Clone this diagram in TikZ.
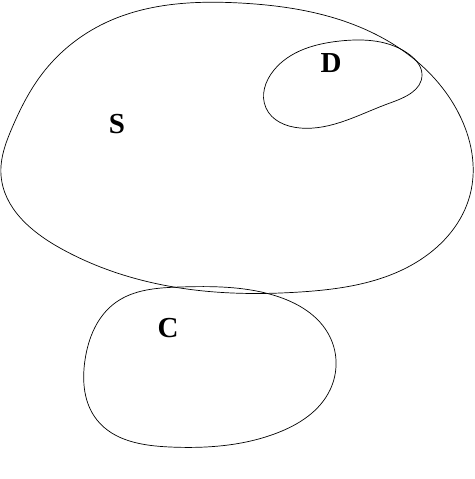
\documentclass[tikz,border=0pt]{standalone}
\usepackage{fontspec}
\setmainfont{Liberation Serif}
\usepackage{tikz}
\usetikzlibrary{hobby}

\tikzset{
  blob/.style={draw=black, line width=0.7pt},
  setname/.style={font=\fontsize{29}{29}\selectfont\bfseries}
}

\begin{document}
\begin{tikzpicture}[x=1pt, y=-1pt]
  \useasboundingbox (0,0) rectangle (474,479);

  % the big set S
  \draw[blob] plot[closed hobby] coordinates {
    (1,175) (12,128) (42,74) (105,23) (240,3) (375,34) (458,112)
    (470,195) (420,260) (300,292) (180,288) (60,248)};

  % D inside S, touching its border
  \draw[blob] plot[closed hobby] coordinates {
    (340,41) (410,55) (422,75) (390,103) (300,128) (266,108) (274,70)};

  % C below S, touching it
  \draw[blob] plot[closed hobby] coordinates {
    (180,287) (273,295) (330,337) (330,390) (277,433) (170,447)
    (97,420) (85,360) (115,303)};

  \node[setname] (s) at (117,124) {S};
  \node[setname] (d) at (331,63) {D};
  \node[setname] (c) at (168,328) {C};
\end{tikzpicture}
\end{document}
